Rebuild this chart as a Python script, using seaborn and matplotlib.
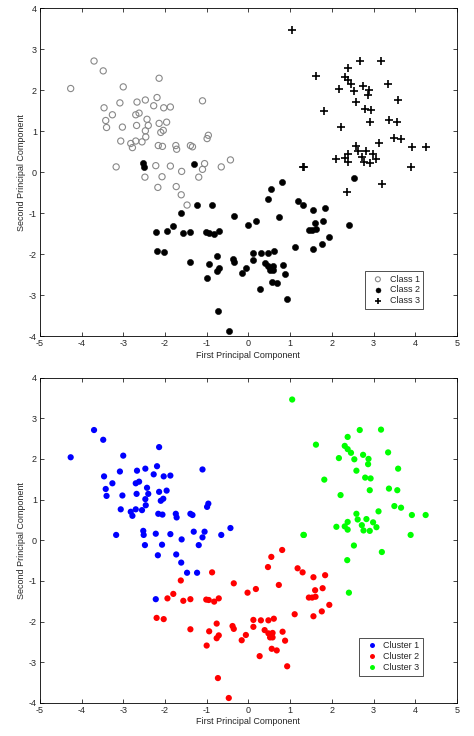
import matplotlib
matplotlib.use("Agg")
import matplotlib.pyplot as plt
import seaborn as sns
import pandas as pd

x1 = [-3.70,-3.48,-4.26,-2.14,-3.00,-3.08,-2.67,-2.47,-2.19,-2.27,-2.03,-1.87,-1.10,-3.46,-3.26,-2.70,-2.62,
      -3.42,-3.40,-3.02,-2.68,-2.43,-2.40,-2.47,-2.46,-2.14,-1.96,-2.04,-2.10,-3.06,-2.82,-2.70,-2.55,-2.78,
      -2.16,-2.06,-1.74,-1.72,-1.39,-1.34,-0.96,-0.99,-3.17,-2.22,-1.87,-1.60,-1.05,-1.10,-0.65,-0.43,-2.48,
      -2.07,-1.19,-2.17,-1.73,-1.61,-1.47]
y1 = [2.71,2.47,2.04,2.29,2.08,1.69,1.71,1.76,1.82,1.62,1.57,1.59,1.74,1.57,1.40,1.40,1.44,
      1.26,1.09,1.10,1.14,1.29,1.14,1.01,0.86,1.19,1.22,1.02,0.97,0.76,0.70,0.76,0.74,0.60,
      0.65,0.63,0.65,0.56,0.65,0.62,0.90,0.82,0.13,0.16,0.15,0.02,0.21,0.07,0.13,0.30,-0.12,
      -0.11,-0.12,-0.37,-0.35,-0.55,-0.80]

x2 = [-2.52,-2.51,-1.31,-1.23,-0.87,-1.62,-0.35,0.81,0.55,0.47,1.18,1.30,1.56,1.84,2.53,0.73,0.18,-0.02,
      1.60,1.78,2.41,-2.22,-1.94,-1.80,-1.56,-1.39,-1.01,-0.95,-0.82,-0.71,1.45,1.53,1.61,1.94,-2.20,-2.03,
      1.11,1.56,1.76,-1.39,-0.76,-0.94,-1.00,-0.76,-0.71,-0.38,-0.35,-0.16,-0.06,0.12,0.12,0.30,0.48,0.61,
      0.39,0.48,0.58,0.52,0.58,0.82,0.88,0.56,0.68,0.27,0.93,-0.73,-0.47]
y2 = [0.23,0.13,0.21,-0.80,-0.79,-0.99,-1.06,-0.24,-0.41,-0.66,-0.69,-0.79,-0.91,-0.86,-0.13,-1.10,-1.20,-1.29,
      -1.23,-1.18,-1.29,-1.45,-1.43,-1.32,-1.49,-1.45,-1.46,-1.47,-1.51,-1.43,-1.41,-1.41,-1.39,-1.59,-1.91,-1.94,
      -1.82,-1.87,-1.75,-2.19,-2.05,-2.24,-2.59,-2.41,-2.34,-2.11,-2.18,-2.46,-2.33,-1.96,-2.13,-1.97,-1.97,-1.93,
      -2.21,-2.29,-2.28,-2.39,-2.39,-2.25,-2.47,-2.67,-2.71,-2.85,-3.10,-3.39,-3.88]
c2 = [1,1,1,1,2,2,2,2,2,2,2,2,2,2,3,2,2,2,
      2,2,3,1,2,2,2,2,2,2,2,2,2,2,2,2,2,2,
      2,2,2,2,2,2,2,2,2,2,2,2,2,2,2,2,2,2,
      2,2,2,2,2,2,2,2,2,2,2,2,2]

x3 = [1.05,2.67,3.18,1.62,2.38,2.31,2.38,2.46,2.17,2.54,2.75,2.88,2.87,3.35,2.59,3.59,2.80,2.93,1.82,2.91,
      3.37,3.57,2.21,3.50,3.66,3.12,3.92,4.25,2.59,2.62,2.83,2.99,2.72,3.07,2.11,2.31,2.38,2.38,2.76,2.91,
      1.33,3.89,3.20,2.37,1.32]
y3 = [3.46,2.71,2.72,2.35,2.54,2.32,2.24,2.15,2.02,1.99,2.10,2.00,1.87,2.16,1.71,1.76,1.54,1.52,1.49,1.23,
      1.27,1.23,1.11,0.84,0.80,0.71,0.62,0.62,0.65,0.51,0.52,0.44,0.37,0.32,0.33,0.34,0.45,0.26,0.24,0.23,
      0.13,0.13,-0.29,-0.49,0.13]

sns.set_style("white")
plt.rcParams['font.family'] = ['Arial', 'Liberation Sans', 'DejaVu Sans']
plt.rcParams['font.size'] = 6.5
plt.rcParams['axes.unicode_minus'] = False

fig = plt.figure(figsize=(4.74, 7.36), dpi=100)
ax1 = fig.add_axes([0.084, 0.543, 0.880, 0.446])
ax2 = fig.add_axes([0.084, 0.045, 0.880, 0.442])

sns.scatterplot(x=x1, y=y1, ax=ax1, marker='o', s=20, facecolors='none', edgecolor='#888888', linewidth=0.8, label='Class 1')
sns.scatterplot(x=x2, y=y2, ax=ax1, marker='o', s=20, color='black', edgecolor='black', label='Class 2')
sns.scatterplot(x=x3, y=y3, ax=ax1, marker='+', s=28, color='black', linewidth=1.2, label='Class 3')

ax_all = x1 + x2 + x3
ay_all = y1 + y2 + y3
cl = ['Cluster 1'] * len(x1) + ['Cluster %d' % c for c in c2] + ['Cluster 3'] * len(x3)
df = pd.DataFrame({'x': ax_all, 'y': ay_all, 'c': cl})
sns.scatterplot(data=df, x='x', y='y', hue='c', hue_order=['Cluster 1', 'Cluster 2', 'Cluster 3'],
                palette=['#0000ff', '#ff0000', '#00ff00'], s=20, edgecolor=None, linewidth=0, ax=ax2)

for ax in (ax1, ax2):
    ax.set_xlim(-5, 5)
    ax.set_ylim(-4, 4)
    ax.set_xticks(range(-5, 6))
    ax.set_yticks(range(-4, 5))
    ax.tick_params(direction='in', length=3, width=0.6, labelsize=6.5, top=True, right=True,
                   bottom=True, left=True, pad=2)
    for sp in ax.spines.values():
        sp.set_linewidth(0.6)
        sp.set_color('black')
    ax.set_xlabel('First Principal Component', fontsize=6.5, labelpad=2)
    ax.set_ylabel('Second Principal Component', fontsize=6.5, labelpad=2)
    leg = ax.legend(loc='lower right', bbox_to_anchor=(0.93, 0.07), fontsize=6.5, frameon=True,
                    fancybox=False, edgecolor='black', borderpad=0.4, handletextpad=0.3, labelspacing=0.2,
                    markerscale=0.8)
    leg.get_frame().set_linewidth(0.6)
    leg.set_title(None)

fig.savefig('out.png', dpi=100)
